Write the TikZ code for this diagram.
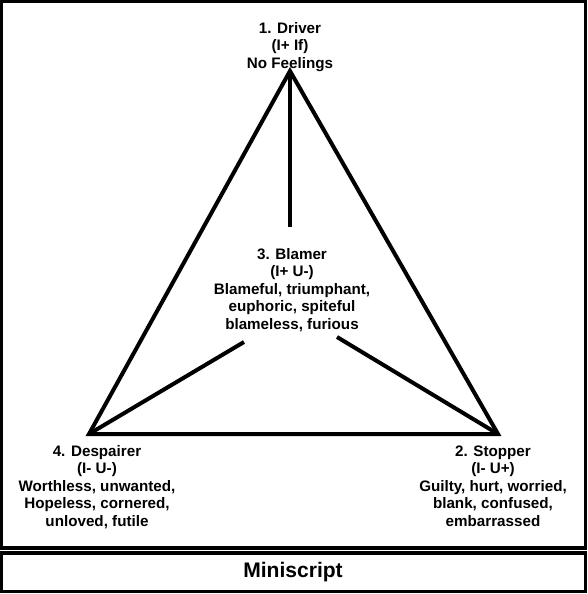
\documentclass[tikz,border=0pt]{standalone}
\usepackage{fontspec}
\setmainfont{Liberation Sans}
\begin{document}
\begin{tikzpicture}[x=0.75pt, y=-0.75pt,
frame/.style={draw, line width=2.4pt},
side/.style={line width=3pt},
spoke/.style={line width=3pt},
label/.style={font=\bfseries\fontsize{11.4}{13.1}\selectfont, align=center, inner sep=0pt},
caption/.style={font=\bfseries\fontsize{15.8}{18}\selectfont, inner sep=0pt}]

\useasboundingbox (0,0) rectangle (587,594);

% FRAMES
\draw[frame] (1.5,1.5) rectangle (585.5,548);
\draw[frame] (1.5,553) rectangle (585.5,591.5);
\node[caption] (title) at (293,572) {Miniscript};

% TRIANGLE
\coordinate (apex) at (290,71);
\coordinate (lcorner) at (89,434);
\coordinate (rcorner) at (498,434);
\draw[side] (apex) -- (lcorner) -- (rcorner) -- cycle;

% spokes to the centre
\coordinate (ctop) at (290,227);
\coordinate (cleft) at (244,342);
\coordinate (cright) at (337,337);
\draw[spoke] (apex) -- (ctop);
\draw[spoke] (lcorner) -- (cleft);
\draw[spoke] (rcorner) -- (cright);

% LABELS
\node[label] (driver) at (290,47) {1. Driver\\(I+ If)\\No Feelings};
\node[label] (blamer) at (292,290) {3. Blamer\\(I+ U-)\\Blameful, triumphant,\\euphoric, spiteful\\blameless, furious};
\node[label] (despairer) at (97,487) {4. Despairer\\(I- U-)\\Worthless, unwanted,\\Hopeless, cornered,\\unloved, futile};
\node[label] (stopper) at (493,486) {2. Stopper\\(I- U+)\\Guilty, hurt, worried,\\blank, confused,\\embarrassed};

\end{tikzpicture}
\end{document}
